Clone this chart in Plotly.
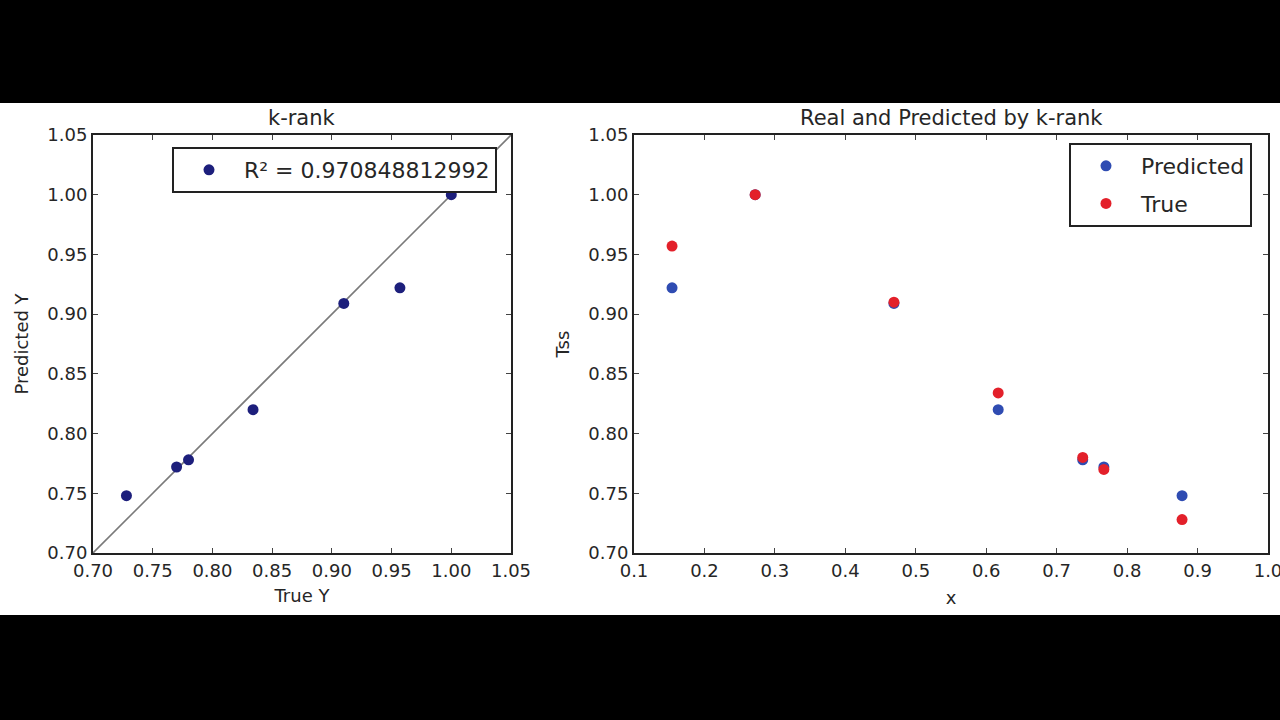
import plotly.graph_objects as go

# ---- data ----
true_y = [0.957, 1.000, 0.910, 0.834, 0.780, 0.770, 0.728]
pred_y = [0.922, 1.000, 0.909, 0.820, 0.778, 0.772, 0.748]
x_vals = [0.154, 0.272, 0.469, 0.617, 0.737, 0.767, 0.878]
diag = [0.70, 1.05]
xticks_right = [0.1, 0.2, 0.3, 0.4, 0.5, 0.6, 0.7, 0.8, 0.9, 1.0]
ticks_005 = [0.70, 0.75, 0.80, 0.85, 0.90, 0.95, 1.00, 1.05]
r2_label = "R² = 0.970848812992"
left_title = "k-rank"
right_title = "Real and Predicted by k-rank"

W, H = 1280, 720
FONT = "DejaVu Sans"
TXT = "#262626"

fig = go.Figure()

# left subplot
fig.add_trace(go.Scatter(x=diag, y=diag, mode="lines", line=dict(color="#7a7a7a", width=1.6),
                         showlegend=False, xaxis="x", yaxis="y", cliponaxis=False, hoverinfo="skip"))
fig.add_trace(go.Scatter(x=true_y, y=pred_y, mode="markers", name=r2_label,
                         marker=dict(color="#1d1f7c", size=11, line=dict(width=0)),
                         xaxis="x", yaxis="y", legend="legend"))
# right subplot
fig.add_trace(go.Scatter(x=x_vals, y=pred_y, mode="markers", name="Predicted",
                         marker=dict(color="#2f4cb2", size=11, line=dict(width=0)),
                         xaxis="x2", yaxis="y2", legend="legend2", legendgroup="p"))
fig.add_trace(go.Scatter(x=x_vals, y=true_y, mode="markers", name="True",
                         marker=dict(color="#e3202a", size=11, line=dict(width=0)),
                         xaxis="x2", yaxis="y2", legend="legend2", legendgroup="t"))

ydom = [(H - 553) / H, (H - 135) / H]
axis_common = dict(showline=True, linecolor="#222222", linewidth=2, mirror="allticks",
                   ticks="inside", ticklen=5, tickcolor="#444444", tickwidth=1,
                   showgrid=False, zeroline=False, ticklabeloverflow="allow",
                   tickfont=dict(family=FONT, size=18, color=TXT), automargin=False)
title_font = dict(size=18, family=FONT, color=TXT)

fig.update_layout(
    width=W, height=H,
    margin=dict(l=0, r=0, t=0, b=0),
    paper_bgcolor="black", plot_bgcolor="white",
    font=dict(family=FONT, color=TXT),
    xaxis=dict(domain=[93 / W, 511 / W], range=[0.70, 1.05], tickvals=ticks_005,
               tickformat=".2f", anchor="y",
               title=dict(text="True Y", font=title_font, standoff=10),
               **axis_common),
    yaxis=dict(domain=ydom, range=[0.70, 1.05], tickvals=ticks_005,
               tickformat=".2f", anchor="x",
               title=dict(text="Predicted Y", font=title_font, standoff=14),
               **axis_common),
    xaxis2=dict(domain=[634 / W, 1268 / W], range=[0.1, 1.0], tickvals=xticks_right,
                tickformat=".1f", anchor="y2",
                title=dict(text="x", font=title_font, standoff=12),
                **axis_common),
    yaxis2=dict(domain=ydom, range=[0.70, 1.05], tickvals=ticks_005,
                tickformat=".2f", anchor="x2",
                title=dict(text="Tss", font=title_font, standoff=14),
                **axis_common),
    legend=dict(x=497 / W, y=(H - 147) / H, xanchor="right", yanchor="top",
                bgcolor="white", bordercolor="#222222", borderwidth=2,
                font=dict(family=FONT, size=22, color=TXT), itemwidth=60),
    legend2=dict(x=1252 / W, y=(H - 143) / H, xanchor="right", yanchor="top",
                 bgcolor="white", bordercolor="#222222", borderwidth=2,
                 font=dict(family=FONT, size=22, color=TXT), itemwidth=60,
                 tracegroupgap=6),
    shapes=[dict(type="rect", xref="paper", yref="paper", x0=0, x1=1,
                 y0=(H - 615) / H, y1=(H - 103) / H, fillcolor="white",
                 line=dict(width=0), layer="below")],
    annotations=[
        dict(text=left_title, xref="x domain", yref="paper", x=0.5, y=(H - 118) / H,
             showarrow=False, font=dict(family=FONT, size=21, color=TXT), yanchor="middle"),
        dict(text=right_title, xref="x2 domain", yref="paper", x=0.5, y=(H - 118) / H,
             showarrow=False, font=dict(family=FONT, size=21, color=TXT), yanchor="middle"),
    ],
)

fig.write_html("out.html")
